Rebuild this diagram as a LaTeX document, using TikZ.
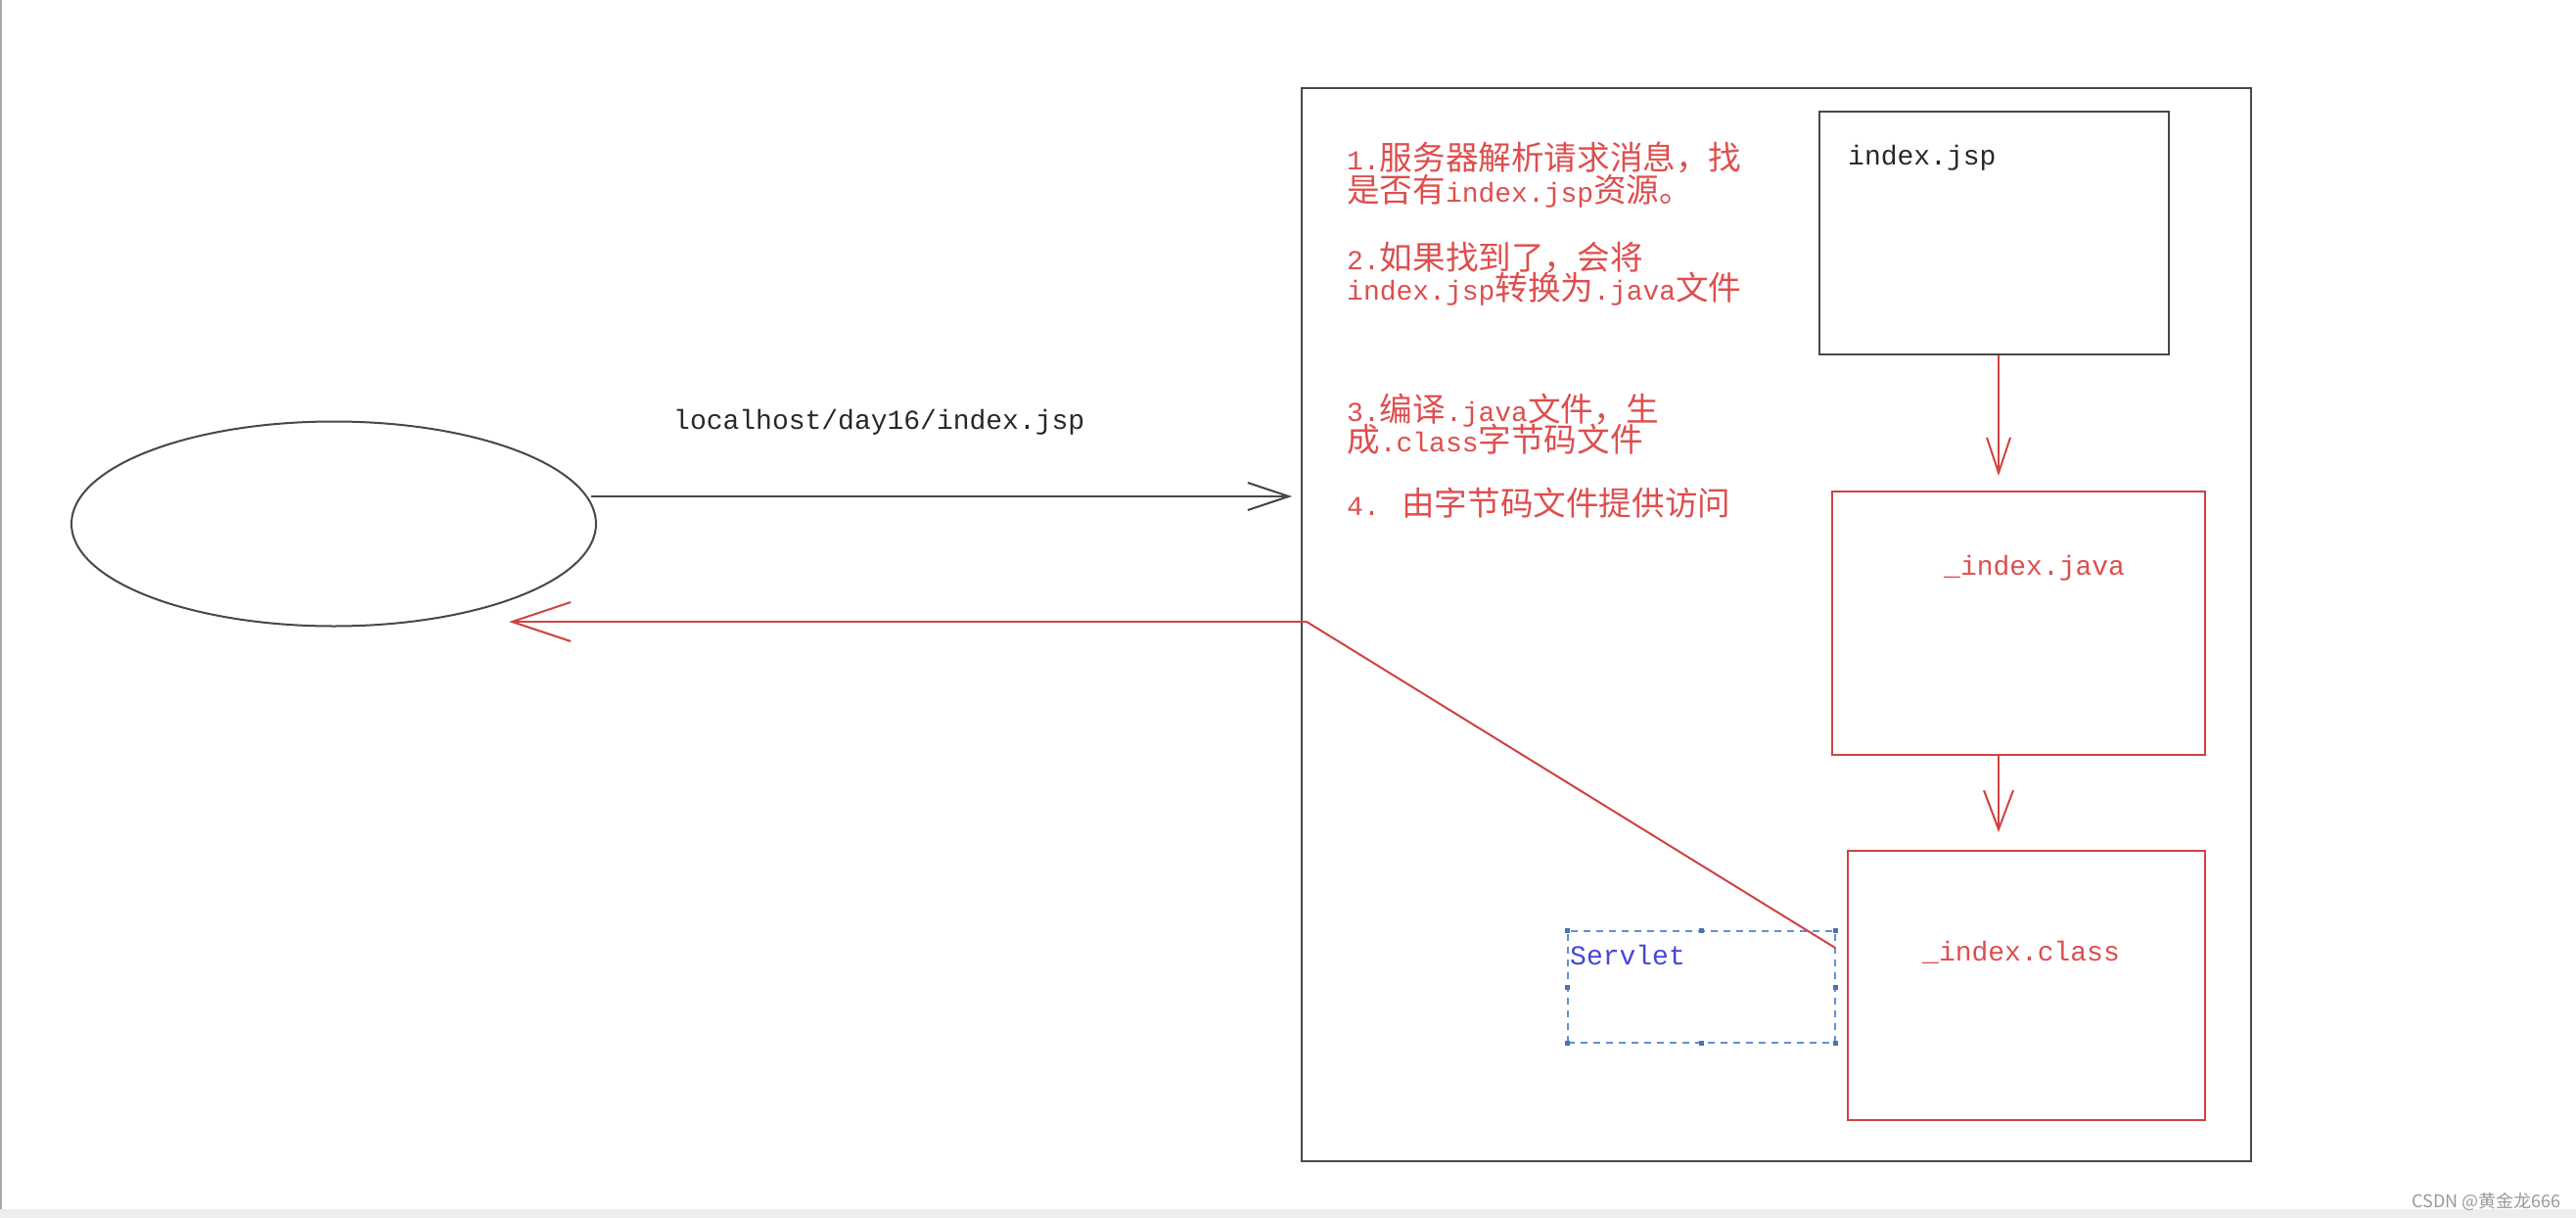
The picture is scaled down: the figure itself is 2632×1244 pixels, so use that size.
\documentclass[tikz,border=0pt]{standalone}
\usepackage{fontspec}
\setmainfont{Liberation Mono}
\setmonofont{Liberation Mono}
\newfontfamily\cjk[Scale=1.2]{Noto Sans CJK SC}
\newfontfamily\wmfont{Noto Sans CJK SC}
\newcommand\zh[1]{{\cjk #1}}
\usetikzlibrary{arrows.meta,shapes.geometric}
\definecolor{redc}{RGB}{208,66,66}
\definecolor{redt}{RGB}{222,78,78}
\definecolor{boxgray}{RGB}{72,72,72}
\definecolor{txtgray}{RGB}{40,40,40}
\definecolor{bluet}{RGB}{70,70,215}
\definecolor{blued}{RGB}{95,145,215}
\begin{document}
\begin{tikzpicture}[x=1pt,y=-1pt,
  txt/.style={font=\fontsize{28}{32}\selectfont, inner sep=0, anchor=base west},
  redtxt/.style={txt, text=redt},
  graybox/.style={draw=boxgray, line width=2pt, inner sep=0, rectangle},
  redbox/.style={draw=redc, line width=2pt, inner sep=0, rectangle},
  redline/.style={draw=redc, line width=2pt},
  handle/.style={fill=blued!80!black, inner sep=0, minimum size=5pt, rectangle}
]
\useasboundingbox (0,0) rectangle (2632,1244);
\fill[white] (0,0) rectangle (2632,1244);
\fill[gray!14] (0,1235) rectangle (2632,1244);
\draw[gray!70, line width=2pt] (1,0) -- (1,1235);

% client ellipse
\node[draw=boxgray, line width=2pt, ellipse, minimum width=536pt, minimum height=209pt, inner sep=0] (client) at (341,535) {};

% server box
\node[graybox, minimum width=970pt, minimum height=1096pt] (server) at (1815,638) {};

% file boxes
\node[graybox, minimum width=357pt, minimum height=248pt] (jsp) at (2037.5,238) {};
\node[redbox, minimum width=381pt, minimum height=269pt] (java) at (2062.5,636.5) {};
\node[redbox, minimum width=365pt, minimum height=275pt] (cls) at (2070.5,1006.5) {};
\node[draw=blued, line width=1.6pt, dash pattern=on 7pt off 6pt, inner sep=0, rectangle,
      minimum width=273pt, minimum height=114pt] (servlet) at (1738.5,1008) {};
\foreach \a in {north west,north,north east,east,south east,south,south west,west}
  \node[handle] at (servlet.\a) {};

% texts in boxes
\node[txt, text=txtgray] (jsplabel) at (1888,168) {index.jsp};
\node[txt, text=redt] (javalabel) at (1986,587) {\_index.java};
\node[txt, text=redt] (clslabel) at (1964,981) {\_index.class};
\node[txt, text=bluet] (servletlabel) at (1604,985) {Servlet};

% request
\node[txt, text=txtgray] (url) at (688,438) {localhost/day16/index.jsp};
\coordinate (reqstart) at (604,507);
\coordinate (reqend) at (1320,507);
\draw[draw=boxgray, line width=2pt, -{Straight Barb[length=42pt,width=28pt,line width=2pt]}] (reqstart) -- (reqend);

% response
\coordinate (junc) at (1335,635);
\coordinate (resptip) at (520,635);
\coordinate (servhook) at (1875,968);
\draw[redline] (servhook) -- (junc);
\draw[redline, -{Straight Barb[length=60pt,width=40pt,line width=2pt]}] (junc) -- (resptip);

% flow arrows
\draw[redline, -{Straight Barb[length=36pt,width=24pt,line width=2pt]}]
  ([xshift=4.5pt]jsp.south) -- ([xshift=4.5pt,yshift=15pt]jsp.south |- java.north);
\draw[redline, -{Straight Barb[length=40pt,width=30pt,line width=2pt]}]
  ([xshift=-20.5pt]java.south) -- ([xshift=-20.5pt,yshift=18pt]java.south |- cls.north);

% steps
\node[redtxt] (s1a) at (1376,173) {1.\zh{服务器解析请求消息，找}};
\node[redtxt] (s1b) at (1376,206) {\zh{是否有}index.jsp\zh{资源。}};
\node[redtxt] (s2a) at (1376,275) {2.\zh{如果找到了，会将}};
\node[redtxt] (s2b) at (1376,306) {index.jsp\zh{转换为}.java\zh{文件}};
\node[redtxt] (s3a) at (1376,430) {3.\zh{编译}.java\zh{文件，生}};
\node[redtxt] (s3b) at (1376,461) {\zh{成}.class\zh{字节码文件}};
\node[redtxt] (s4) at (1376,526) {4. \zh{由字节码文件提供访问}};

% watermark
\node[font=\wmfont\fontsize{18}{20}\selectfont, text=gray!80, inner sep=0, anchor=east] (wm) at (2617,1227) {CSDN @黄金龙666};
\end{tikzpicture}
\end{document}
